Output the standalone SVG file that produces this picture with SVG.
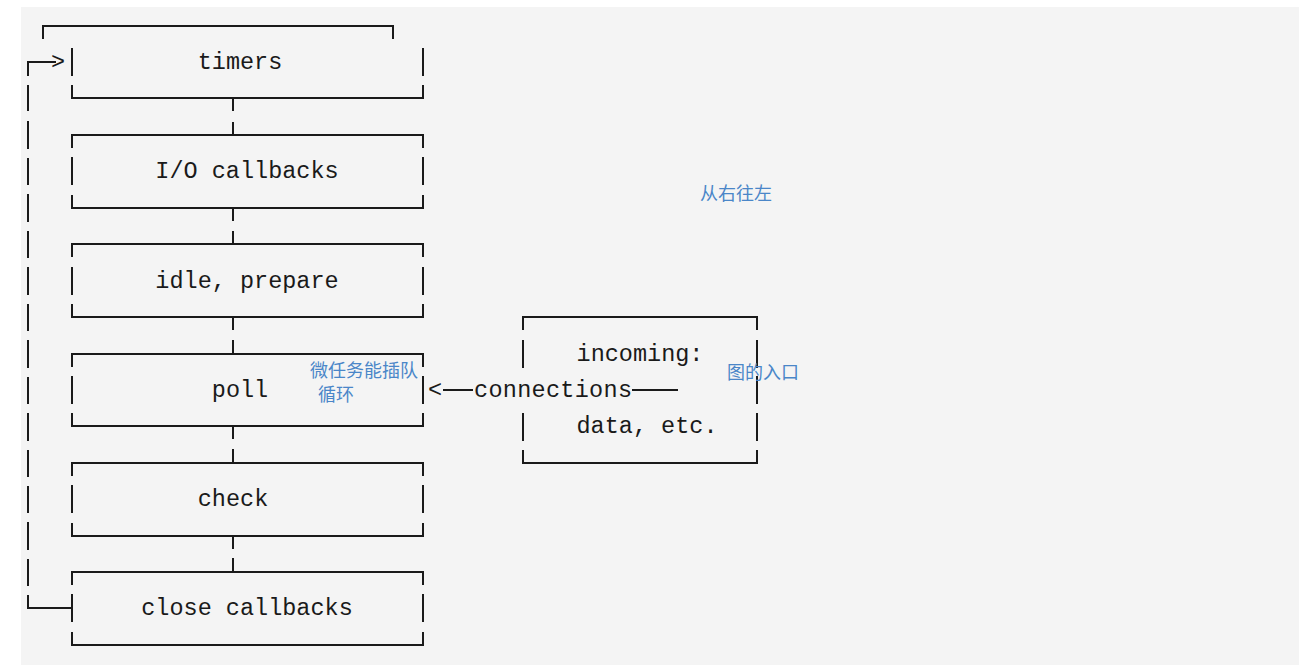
<svg xmlns="http://www.w3.org/2000/svg" width="1299" height="672" viewBox="0 0 1299 672">
<style>
.ln{fill:none;stroke:#1a1a1a;stroke-width:2}
.t{font-family:"Liberation Mono",monospace;font-size:23.5px;fill:#1a1a1a}
.c{font-family:"Noto Sans CJK SC",sans-serif;font-size:18px;fill:#4a86c8}
</style>
<rect width="1299" height="672" fill="#fff"/>
<rect x="21" y="7" width="1278" height="658" fill="#f4f4f4"/>
<g id="timers">
<path class="ln" d="M43,39V26H393V39M72,48V76M423,48V76M72,85V98H423V85"/>
<text class="t" x="240" y="69" text-anchor="middle">timers</text>
</g>
<g id="io">
<path class="ln" d="M72,148V135H423V148M72,157V185M423,157V185M72,195V208H423V195"/>
<text class="t" x="247" y="178" text-anchor="middle">I/O callbacks</text>
</g>
<g id="idle">
<path class="ln" d="M72,257V244H423V257M72,267V295M423,267V295M72,304V317H423V304"/>
<text class="t" x="247" y="288" text-anchor="middle">idle, prepare</text>
</g>
<g id="poll">
<path class="ln" d="M72,367V354H423V367M72,376V404M423,376V404M72,413V426H423V413"/>
<text class="t" x="240" y="397" text-anchor="middle">poll</text>
</g>
<g id="check">
<path class="ln" d="M72,476V463H423V476M72,485V513M423,485V513M72,523V536H423V523"/>
<text class="t" x="233" y="506" text-anchor="middle">check</text>
</g>
<g id="close">
<path class="ln" d="M72,585V572H423V585M72,594V622M423,594V622M72,632V645H423V632"/>
<text class="t" x="247" y="615" text-anchor="middle">close callbacks</text>
</g>
<g id="incoming">
<path class="ln" d="M523,330V317H757V330M523,340V368M757,340V368M757,376V404M523,413V441M757,413V441M523,450V463H757V450"/>
<text class="t" x="640" y="361" text-anchor="middle">incoming:</text>
<text class="t" x="647" y="433" text-anchor="middle">data, etc.</text>
</g>
<g id="connectors">
<path class="ln" d="M233,98V111M233,122V135M233,208V221M233,231V244M233,317V330M233,340V354M233,426V439M233,449V463M233,536V549M233,558V572"/>
<path class="ln" d="M28,76V62H56M28,85V111M28,121V149M28,158V185M28,194V222M28,231V258M28,267V295M28,304V331M28,340V368M28,377V404M28,413V441M28,450V477M28,486V513M28,522V550M28,559V586M28,595V608H72"/>
<text class="t" x="51" y="69">&gt;</text>
<text class="t" x="428" y="397">&lt;</text>
<path class="ln" d="M443,390H473M632,390H678"/>
<text class="t" x="474" y="397" textLength="158">connections</text>
</g>
<text class="c" x="700" y="200">从右往左</text>
<text class="c" x="310" y="377" font-size="17">微任务能插队</text>
<text class="c" x="318" y="401" font-size="17">循环</text>
<text class="c" x="727" y="379">图的入口</text>
</svg>
